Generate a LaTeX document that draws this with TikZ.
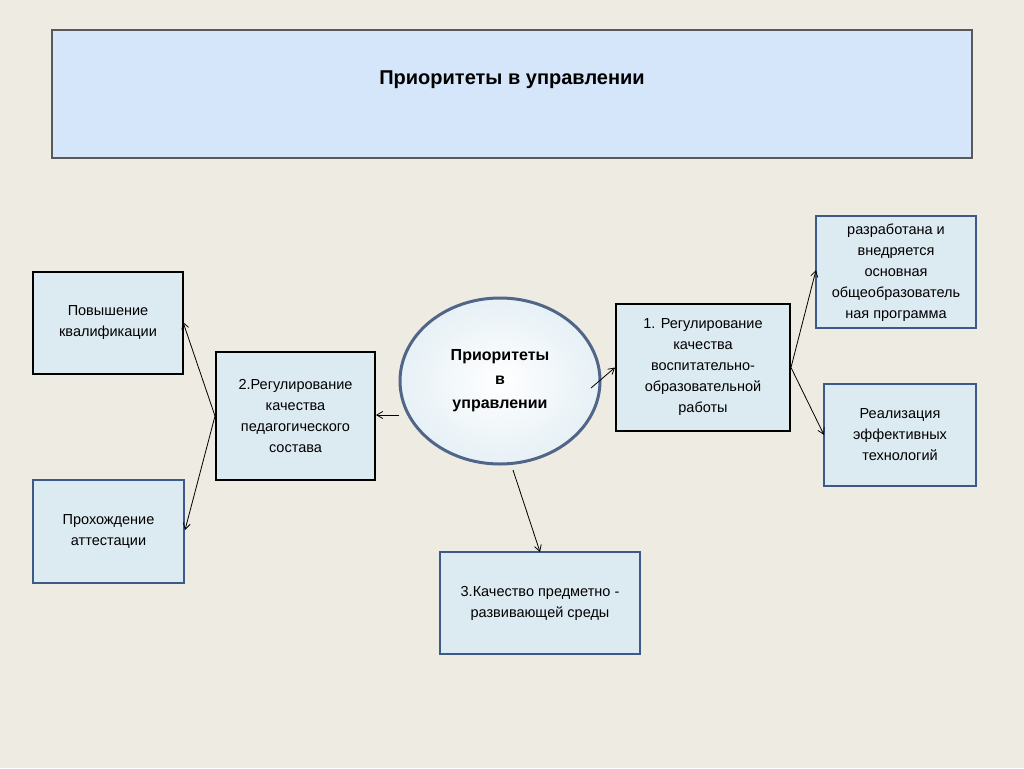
\documentclass[tikz,border=0pt]{standalone}
\usepackage{fontspec}
\setmainfont{Liberation Sans}
\usetikzlibrary{arrows.meta,shapes.geometric}
\definecolor{bg}{HTML}{EEEBE2}
\definecolor{boxf}{HTML}{DCEAF2}
\definecolor{bluel}{HTML}{3B5A8A}
\definecolor{titlef}{HTML}{D5E5FA}
\begin{document}
\begin{tikzpicture}[x=1pt,y=-1pt,
  txt/.style={font=\fontsize{14.5}{21}\selectfont,align=center,text=black},
  bb/.style={draw=black,line width=2pt,fill=boxf},
  ub/.style={draw=bluel,line width=2pt,fill=boxf},
  arr/.style={-{Straight Barb[length=6pt,width=7pt]},line width=0.8pt}]
\fill[bg] (0,0) rectangle (1024,768);
\useasboundingbox (0,0) rectangle (1024,768);
\node[draw=gray!70!black,line width=1.5pt,fill=titlef,minimum width=920pt,minimum height=128pt] (title) at (512,94) {};
\node[font=\fontsize{20}{24}\selectfont\bfseries] (tt) at (512,80) {Приоритеты в управлении};
\node[bb,txt,minimum width=150pt,minimum height=102pt] (pk) at (108,323) {Повышение\\квалификации};
\node[ub,txt,minimum width=151pt,minimum height=103pt] (pa) at (108.5,531.5) {Прохождение\\аттестации};
\node[bb,txt,minimum width=159pt,minimum height=128pt] (r2) at (295.5,416) {2.Регулирование\\качества\\педагогического\\состава};
\node[ellipse,draw=bluel!70!gray,line width=3pt,inner color=white,outer color=boxf!70!white,minimum width=200pt,minimum height=166pt,txt,font=\fontsize{16}{24}\selectfont\bfseries] (c) at (500,381) {Приоритеты\\в\\управлении};
\node[bb,txt,minimum width=174pt,minimum height=127pt] (r1) at (703,367.5) {1. Регулирование\\качества\\воспитательно-\\образовательной\\работы};
\node[ub,minimum width=160pt,minimum height=112pt] (op) at (896,272) {};
\node[txt,anchor=north] (opt) at (896,220) {разработана и\\внедряется\\основная\\общеобразователь\\ная программа};
\node[ub,txt,minimum width=152pt,minimum height=102pt] (rt) at (900,435) {Реализация\\эффективных\\технологий};
\node[ub,txt,minimum width=200pt,minimum height=102pt] (r3) at (540,603) {3.Качество предметно -\\развивающей среды};
\draw[arr] (c.west |- 0,415) -- (r2.east |- 0,415);
\draw[arr] (r2.west) -- (183,322);
\draw[arr] (r2.west) -- (185,530);
\draw[arr] (591,388) -- (r1.west);
\draw[arr] (r1.east) -- (816,270);
\draw[arr] (r1.east) -- (824,435);
\draw[arr] (513,470) -- (540,552);
\end{tikzpicture}
\end{document}
